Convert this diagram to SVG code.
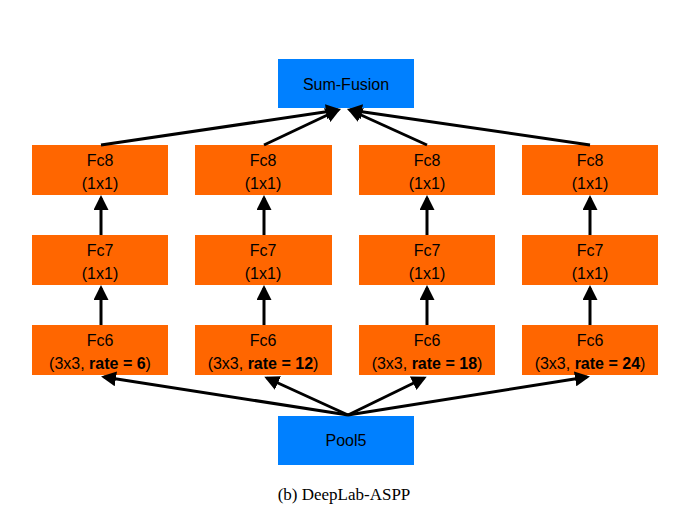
<svg xmlns="http://www.w3.org/2000/svg" width="687" height="507" viewBox="0 0 687 507">
<defs><marker id="a" markerWidth="5" markerHeight="5" refX="4" refY="2.5" orient="auto" markerUnits="strokeWidth"><path d="M0,0 L5,2.5 L0,5 z" fill="#000"/></marker></defs>
<style>
.o{fill:#FF6600}.b{fill:#0080FF}
text{font-family:"Liberation Sans",Arial,sans-serif;font-size:16px;fill:#000;text-anchor:middle}
.c{stroke:#000;stroke-width:3;fill:none;marker-end:url(#a)}
</style>
<rect width="687" height="507" fill="#fff"/>
<g id="sum"><rect class="b" x="278" y="59" width="136" height="49"/><text x="346" y="90">Sum-Fusion</text></g>
<g id="pool5"><rect class="b" x="278" y="416" width="136" height="49"/><text x="346" y="446">Pool5</text></g>
<g id="fc8_1"><rect class="o" x="32" y="145" width="136" height="50"/><text x="100" y="166">Fc8</text><text x="100" y="189">(1x1)</text></g>
<g id="fc8_2"><rect class="o" x="195" y="145" width="137" height="50"/><text x="263" y="166">Fc8</text><text x="263" y="189">(1x1)</text></g>
<g id="fc8_3"><rect class="o" x="359" y="145" width="136" height="50"/><text x="427" y="166">Fc8</text><text x="427" y="189">(1x1)</text></g>
<g id="fc8_4"><rect class="o" x="522" y="145" width="136" height="50"/><text x="590" y="166">Fc8</text><text x="590" y="189">(1x1)</text></g>
<g id="fc7_1"><rect class="o" x="32" y="235" width="136" height="50"/><text x="100" y="256">Fc7</text><text x="100" y="279">(1x1)</text></g>
<g id="fc7_2"><rect class="o" x="195" y="235" width="137" height="50"/><text x="263" y="256">Fc7</text><text x="263" y="279">(1x1)</text></g>
<g id="fc7_3"><rect class="o" x="359" y="235" width="136" height="50"/><text x="427" y="256">Fc7</text><text x="427" y="279">(1x1)</text></g>
<g id="fc7_4"><rect class="o" x="522" y="235" width="136" height="50"/><text x="590" y="256">Fc7</text><text x="590" y="279">(1x1)</text></g>
<g id="fc6_1"><rect class="o" x="32" y="325" width="136" height="50"/><text x="100" y="346">Fc6</text><text x="100" y="369">(3x3, <tspan font-weight="bold">rate = 6</tspan>)</text></g>
<g id="fc6_2"><rect class="o" x="195" y="325" width="137" height="50"/><text x="263" y="346">Fc6</text><text x="263" y="369">(3x3, <tspan font-weight="bold">rate = 12</tspan>)</text></g>
<g id="fc6_3"><rect class="o" x="359" y="325" width="136" height="50"/><text x="427" y="346">Fc6</text><text x="427" y="369">(3x3, <tspan font-weight="bold">rate = 18</tspan>)</text></g>
<g id="fc6_4"><rect class="o" x="522" y="325" width="136" height="50"/><text x="590" y="346">Fc6</text><text x="590" y="369">(3x3, <tspan font-weight="bold">rate = 24</tspan>)</text></g>
<g id="connectors">
<line class="c" x1="101" y1="145" x2="338" y2="110"/>
<line class="c" x1="264" y1="145" x2="338" y2="110"/>
<line class="c" x1="427" y1="145" x2="350" y2="110"/>
<line class="c" x1="590" y1="145" x2="350" y2="110"/>
<line class="c" x1="101" y1="235" x2="101" y2="198"/>
<line class="c" x1="264" y1="235" x2="264" y2="198"/>
<line class="c" x1="427" y1="235" x2="427" y2="198"/>
<line class="c" x1="590" y1="235" x2="590" y2="198"/>
<line class="c" x1="101" y1="325" x2="101" y2="288"/>
<line class="c" x1="264" y1="325" x2="264" y2="288"/>
<line class="c" x1="427" y1="325" x2="427" y2="288"/>
<line class="c" x1="590" y1="325" x2="590" y2="288"/>
<line class="c" x1="348" y1="415" x2="104" y2="377"/>
<line class="c" x1="348" y1="415" x2="267" y2="378"/>
<line class="c" x1="348" y1="415" x2="424" y2="378"/>
<line class="c" x1="348" y1="415" x2="587" y2="377"/>
</g>
<text x="344" y="500" style="font-family:'Liberation Serif','Times New Roman',serif;font-size:17px">(b) DeepLab-ASPP</text>
</svg>
